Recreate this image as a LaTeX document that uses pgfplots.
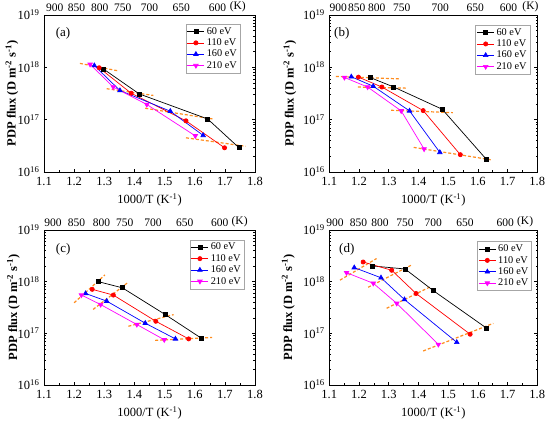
\documentclass[border=0pt]{standalone}
\usepackage{pgfplots}
\pgfplotsset{compat=1.18}
\usepackage{fontspec}
\setmainfont{Liberation Serif}
\definecolor{orng}{RGB}{255,140,30}
\definecolor{mag}{RGB}{255,0,255}
\pgfplotsset{
  pdpbase/.style={scale only axis, width=211pt, xmin=1.1, xmax=1.8, anchor=south west},
  pdppanel/.style={pdpbase, ymin=1e16, ymax=1e19,
    xtick={1.1,1.2,1.3,1.4,1.5,1.6,1.7,1.8},
    xticklabels={1.1,1.2,1.3,1.4,1.5,1.6,1.7,1.8},
    minor xtick={1.15,1.25,1.35,1.45,1.55,1.65,1.75},
    xtick pos=left,
    ytick={1e16,1e17,1e18,1e19},
    yticklabels={10\textsuperscript{16},10\textsuperscript{17},10\textsuperscript{18},10\textsuperscript{19}},
    tick label style={font=\fontsize{12.5}{14}\selectfont},
    xticklabel style={yshift=-2pt},
    yticklabel style={xshift=-1pt},
    xlabel={1000/T (K\textsuperscript{-1})},
    ylabel={\bfseries PDP flux (D m\textsuperscript{-2} s\textsuperscript{-1})},
    label style={font=\fontsize{12.5}{14}\selectfont},
    xlabel style={at={(axis description cs:0.5,-0.18)}, anchor=center},
    legend style={font=\fontsize{10.3}{12}\selectfont, draw=gray!70, anchor=north east, inner sep=1.2pt, row sep=-1pt},
    legend cell align=left,
    major tick length=3pt, minor tick length=1.5pt,
    tick style={black, line width=0.5pt},
    axis line style={line width=0.6pt},
  },
  pdptop/.style={pdpbase, axis x line*=top, axis y line=none, ymin=0, ymax=1,
    major tick length=0pt, tick label style={font=\fontsize{11.5}{13}\selectfont},
    xticklabels={900,850,800,750,700,650,600,(K)}},
  s60/.style={black, line width=0.7pt, mark=square*, mark size=2pt},
  s110/.style={red, line width=0.7pt, mark=*, mark size=2.1pt},
  s160/.style={blue, line width=0.7pt, mark=triangle*, mark size=2.6pt},
  s210/.style={mag, line width=0.7pt, mark=triangle*, mark options={rotate=180}, mark size=2.6pt},
  pdpfit/.style={orng, line width=1.2pt, dash pattern=on 3pt off 2pt, forget plot},
}
\begin{document}
\begin{tikzpicture}
\path[use as bounding box] (0,0) rectangle (550pt,427pt);

% ---------------- (a)
\begin{axis}[ymode=log, pdppanel, at={(44pt,255pt)}, height=157pt,
  ylabel style={at={(axis description cs:-0.152,0.5)}, anchor=center},
  legend style={at={(0.93,0.943)}}]
\addplot[pdpfit] coordinates {(1.219,1.19e18) (1.344,8.6e17)};
\addplot[pdpfit] coordinates {(1.308,3.9e17) (1.463,2.9e17)};
\addplot[pdpfit] coordinates {(1.436,1.65e17) (1.66,1.03e17)};
\addplot[pdpfit] coordinates {(1.571,4.5e16) (1.769,3.1e16)};
\addplot[s60] coordinates {(1.297,9.3e17) (1.416,3.1e17) (1.643,1.03e17) (1.747,2.9e16)};
\addplot[s110] coordinates {(1.283,9.8e17) (1.389,3.2e17) (1.571,9.5e16) (1.699,2.9e16)};
\addplot[s160] coordinates {(1.267,1.08e18) (1.352,3.6e17) (1.519,1.45e17) (1.628,5.0e16)};
\addplot[s210] coordinates {(1.253,1.14e18) (1.330,4.2e17) (1.441,1.95e17) (1.602,4.9e16)};
\legend{60 eV,110 eV,160 eV,210 eV}
\node[font=\fontsize{13}{15}\selectfont] at (rel axis cs:0.09,0.885) {(a)};
\end{axis}
\begin{axis}[pdptop, at={(44pt,255pt)}, height=157pt,
  xtick={1.136,1.208,1.285,1.361,1.450,1.555,1.676,1.743}]
\end{axis}

% ---------------- (b)
\begin{axis}[ymode=log, pdppanel, at={(329.3pt,255pt)}, width=208pt, height=157pt,
  ylabel style={at={(axis description cs:-0.189,0.5)}, anchor=center},
  legend style={at={(0.965,0.936)}}]
\addplot[pdpfit] coordinates {(1.122,6.7e17) (1.339,6.0e17)};
\addplot[pdpfit] coordinates {(1.196,4.2e17) (1.360,4.0e17)};
\addplot[pdpfit] coordinates {(1.308,1.51e17) (1.516,1.36e17)};
\addplot[pdpfit] coordinates {(1.384,2.95e16) (1.647,1.7e16)};
\addplot[s60] coordinates {(1.237,6.4e17) (1.317,4.2e17) (1.480,1.58e17) (1.628,1.76e16)};
\addplot[s110] coordinates {(1.198,6.5e17) (1.277,4.2e17) (1.416,1.49e17) (1.541,2.14e16)};
\addplot[s160] coordinates {(1.174,6.6e17) (1.248,4.35e17) (1.370,1.47e17) (1.472,2.37e16)};
\addplot[s210] coordinates {(1.151,6.4e17) (1.229,4.2e17) (1.342,1.47e17) (1.419,2.75e16)};
\legend{60 eV,110 eV,160 eV,210 eV}
\node[font=\fontsize{13}{15}\selectfont] at (rel axis cs:0.06,0.885) {(b)};
\end{axis}
\begin{axis}[pdptop, at={(329.3pt,255pt)}, width=208pt, height=157pt,
  xtick={1.130,1.192,1.260,1.344,1.473,1.591,1.703,1.777}]
\end{axis}

% ---------------- (c)
\begin{axis}[ymode=log, pdppanel, at={(44pt,42pt)}, height=155pt,
  ylabel style={at={(axis description cs:-0.145,0.5)}, anchor=center},
  legend style={at={(0.949,0.937)}}]
\addplot[pdpfit] coordinates {(1.2,3.9e17) (1.302,1.35e18)};
\addplot[pdpfit] coordinates {(1.263,2.9e17) (1.38,9.8e17)};
\addplot[pdpfit] coordinates {(1.38,1.37e17) (1.53,2.3e17)};
\addplot[pdpfit] coordinates {(1.469,7.3e16) (1.658,8.3e16)};
\addplot[s60] coordinates {(1.28,1.0e18) (1.36,7.6e17) (1.502,2.31e17) (1.621,8.1e16)};
\addplot[s110] coordinates {(1.26,7.1e17) (1.33,5.5e17) (1.471,1.71e17) (1.58,7.8e16)};
\addplot[s160] coordinates {(1.238,5.9e17) (1.308,4.2e17) (1.436,1.57e17) (1.536,7.8e16)};
\addplot[s210] coordinates {(1.224,5.5e17) (1.288,3.6e17) (1.408,1.48e17) (1.499,7.5e16)};
\legend{60 eV,110 eV,160 eV,210 eV}
\node[font=\fontsize{13}{15}\selectfont] at (rel axis cs:0.091,0.874) {(c)};
\end{axis}
\begin{axis}[pdptop, at={(44pt,42pt)}, height=155pt,
  xtick={1.130,1.208,1.291,1.368,1.462,1.567,1.683,1.749}]
\end{axis}

% ---------------- (d)
\begin{axis}[ymode=log, pdppanel, at={(329.3pt,42pt)}, width=208pt, height=155pt,
  ylabel style={at={(axis description cs:-0.197,0.5)}, anchor=center},
  legend style={at={(0.973,0.926)}}]
\addplot[pdpfit] coordinates {(1.136,1.07e18) (1.259,2.8e18)};
\addplot[pdpfit] coordinates {(1.231,7.8e17) (1.377,2.1e18)};
\addplot[pdpfit] coordinates {(1.293,3.05e17) (1.439,7.9e17)};
\addplot[pdpfit] coordinates {(1.416,4.55e16) (1.652,1.56e17)};
\addplot[s60] coordinates {(1.246,2.01e18) (1.355,1.76e18) (1.450,6.7e17) (1.630,1.25e17)};
\addplot[s110] coordinates {(1.214,2.4e18) (1.310,1.66e18) (1.392,5.9e17) (1.574,9.6e16)};
\addplot[s160] coordinates {(1.184,1.87e18) (1.274,1.19e18) (1.353,4.5e17) (1.529,6.7e16)};
\addplot[s210] coordinates {(1.158,1.49e18) (1.248,9.3e17) (1.327,3.8e17) (1.467,6.1e16)};
\legend{60 eV,110 eV,160 eV,210 eV}
\node[font=\fontsize{13}{15}\selectfont] at (rel axis cs:0.084,0.874) {(d)};
\end{axis}
\begin{axis}[pdptop, at={(329.3pt,42pt)}, width=208pt, height=155pt,
  xtick={1.119,1.198,1.271,1.355,1.450,1.557,1.692,1.759}]
\end{axis}
\end{tikzpicture}
\end{document}
